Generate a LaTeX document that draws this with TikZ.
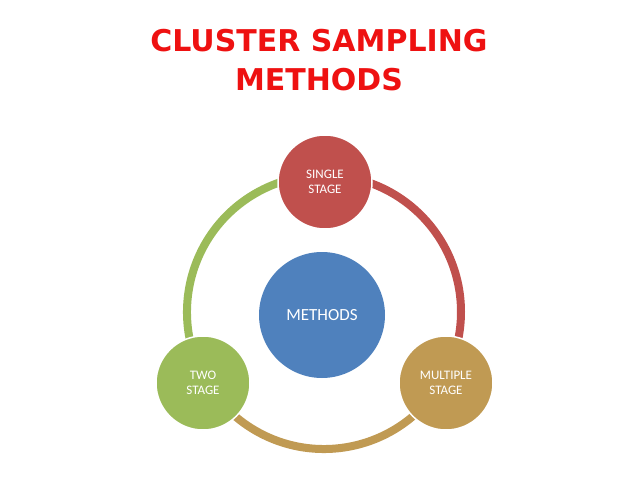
\documentclass[tikz,border=0pt]{standalone}
\usepackage{fontspec}
\setmainfont{Carlito}
\newfontfamily\titlefont{DejaVu Sans}
\definecolor{cred}{HTML}{C0504D}
\definecolor{cgold}{HTML}{C09A53}
\definecolor{cgreen}{HTML}{9BBB59}
\definecolor{cblue}{HTML}{4F81BD}
\definecolor{ttl}{HTML}{EE1111}
\begin{document}
\begin{tikzpicture}[x=1pt,y=-1pt,
  sub/.style={circle,minimum size=94pt,inner sep=0pt,text=white,font=\fontsize{13}{15}\selectfont,align=center,draw=white,line width=1.5pt},
  ring/.style={line width=8pt}]
\useasboundingbox (0,0) rectangle (638,479);
\node[font=\titlefont\bfseries\fontsize{30}{39}\selectfont,text=ttl,align=center] (t) at (319,60) {CLUSTER SAMPLING\\METHODS};
\coordinate (c) at (324,312);
\draw[ring,cred] (c) ++(-90:137) arc[start angle=-90,end angle=30,radius=137];
\draw[ring,cgold] (c) ++(30:137) arc[start angle=30,end angle=150,radius=137];
\draw[ring,cgreen] (c) ++(150:137) arc[start angle=150,end angle=270,radius=137];
\node[circle,minimum size=126pt,inner sep=0pt,fill=cblue,text=white,font=\fontsize{17}{19}\selectfont] (m) at (322,315) {METHODS};
\node[sub,fill=cred] (s) at (325,182) {SINGLE\\STAGE};
\node[sub,fill=cgold] (mu) at (446,383) {MULTIPLE\\STAGE};
\node[sub,fill=cgreen] (tw) at (203,383) {TWO\\STAGE};
\end{tikzpicture}
\end{document}
